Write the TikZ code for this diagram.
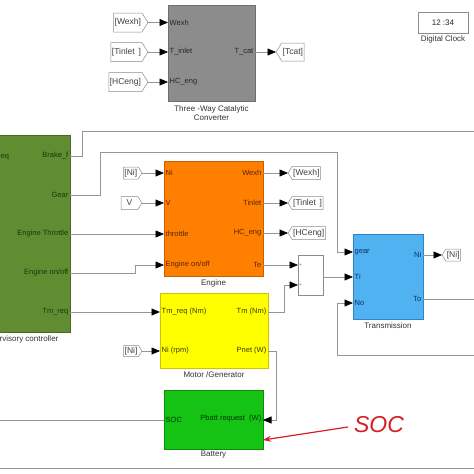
\documentclass[tikz,border=0pt]{standalone}
\usepackage{fontspec}
\setmainfont{Liberation Sans}
\usetikzlibrary{arrows.meta,shapes.symbols}
\definecolor{wiregray}{RGB}{150,150,150}
\definecolor{tagdraw}{RGB}{140,140,140}
\definecolor{catfill}{RGB}{140,140,140}
\definecolor{catdraw}{RGB}{110,110,110}
\definecolor{supfill}{RGB}{96,140,50}
\definecolor{supdraw}{RGB}{70,105,35}
\definecolor{suptxt}{RGB}{25,55,10}
\definecolor{engfill}{RGB}{255,128,0}
\definecolor{engdraw}{RGB}{200,95,0}
\definecolor{engtxt}{RGB}{95,35,0}
\definecolor{motfill}{RGB}{255,255,0}
\definecolor{motdraw}{RGB}{200,200,0}
\definecolor{mottxt}{RGB}{60,60,0}
\definecolor{batfill}{RGB}{20,195,20}
\definecolor{batdraw}{RGB}{10,140,10}
\definecolor{battxt}{RGB}{0,55,0}
\definecolor{trfill}{RGB}{80,178,240}
\definecolor{trdraw}{RGB}{50,130,200}
\definecolor{trtxt}{RGB}{10,45,105}
\definecolor{socred}{RGB}{215,30,35}
\begin{document}
\begin{tikzpicture}[x=1pt,y=-1pt,
  blk/.style={draw, rectangle, inner sep=0pt, outer sep=0pt, anchor=north west, line width=0.5pt},
  wire/.style={draw=wiregray, line width=0.6pt},
  sig/.style={wire, -{Triangle[length=8.5pt,width=7pt,color=black]}},
  plab/.style={font=\fontsize{7.5}{9}\selectfont, inner sep=1.5pt},
  blkcap/.style={font=\fontsize{8}{9.5}\selectfont, text=black!80, inner sep=0pt},
  tagbase/.style={signal, draw=tagdraw, fill=white, line width=0.5pt, signal pointer angle=115,
    font=\fontsize{8.5}{10}\selectfont, text=black!75, inner xsep=1pt, inner ysep=0pt, outer sep=0pt},
  fromtag/.style={tagbase, signal to=east, anchor=east},
  gototag/.style={tagbase, signal to=west, anchor=west}
]
\useasboundingbox (0,0) rectangle (474,474);

% ---------- blocks ----------
\node[blk, fill=catfill, draw=catdraw, minimum width=87, minimum height=96] (cat) at (168,5) {};
\node[blk, fill=supfill, draw=supdraw, minimum width=72, minimum height=197] (sup) at (-2,135) {};
\node[blk, fill=engfill, draw=engdraw, minimum width=99, minimum height=115] (eng) at (164,161) {};
\node[blk, fill=motfill, draw=motdraw, minimum width=108, minimum height=75] (mot) at (160,293) {};
\node[blk, fill=batfill, draw=batdraw, minimum width=99, minimum height=59] (bat) at (164,390) {};
\node[blk, fill=trfill, draw=trdraw, minimum width=70, minimum height=85] (tr) at (353,234) {};
\node[blk, fill=white, draw=tagdraw, minimum width=25, minimum height=40] (sum) at (298,255) {};
\node[blk, fill=white, draw=tagdraw, minimum width=50, minimum height=21] (clk) at (418,12) {};

% ---------- captions ----------
\node[blkcap, align=center] (catcap) at (211.5,113) {Three -Way Catalytic\\Converter};
\node[blkcap] (clkcap) at (443,39) {Digital Clock};
\node[font=\fontsize{8}{9.5}\selectfont, text=black!85] (clktxt) at (clk.center) {12 :34};
\node[blkcap, anchor=west] (supcap) at (-0.5,339) {rvisory controller};
\node[blkcap] (engcap) at (213.5,283) {Engine};
\node[blkcap] (motcap) at (214,375) {Motor /Generator};
\node[blkcap] (batcap) at (213.5,455) {Battery};
\node[blkcap] (trcap) at (388,326) {Transmission};

% ---------- port labels ----------
\node[plab, anchor=west, text=black!85] (cWexh) at (cat.west |- 0,23) {Wexh};
\node[plab, anchor=west, text=black!85] (cTin) at (cat.west |- 0,52) {T\_inlet};
\node[plab, anchor=west, text=black!85] (cHC) at (cat.west |- 0,82) {HC\_eng};
\node[plab, anchor=east, text=black!85] (cTcat) at (cat.east |- 0,52) {T\_cat};

\node[plab, anchor=west, text=suptxt] (sEq) at (-1,157) {eq};
\node[plab, anchor=east, text=suptxt] (sBr) at (sup.east |- 0,156) {Brake\_f};
\node[plab, anchor=east, text=suptxt] (sGr) at (sup.east |- 0,195) {Gear};
\node[plab, anchor=east, text=suptxt] (sTh) at (sup.east |- 0,234) {Engine Throttle};
\node[plab, anchor=east, text=suptxt] (sOn) at (sup.east |- 0,273) {Engine on/off};
\node[plab, anchor=east, text=suptxt] (sTm) at (sup.east |- 0,312) {Tm\_req};

\node[plab, anchor=west, text=engtxt] (eNi) at (eng.west |- 0,173) {Ni};
\node[plab, anchor=west, text=engtxt] (eV) at (eng.west |- 0,203) {V};
\node[plab, anchor=west, text=engtxt] (eTh) at (eng.west |- 0,234) {throttle};
\node[plab, anchor=west, text=engtxt] (eOn) at (eng.west |- 0,265) {Engine on/off};
\node[plab, anchor=east, text=engtxt] (eWx) at (eng.east |- 0,173) {Wexh};
\node[plab, anchor=east, text=engtxt] (eTi) at (eng.east |- 0,203) {Tinlet};
\node[plab, anchor=east, text=engtxt] (eHC) at (eng.east |- 0,233) {HC\_eng};
\node[plab, anchor=east, text=engtxt] (eTe) at (eng.east |- 0,265) {Te};

\node[plab, anchor=west, text=mottxt] (mTr) at (mot.west |- 0,312) {Tm\_req (Nm)};
\node[plab, anchor=west, text=mottxt] (mNi) at (mot.west |- 0,351) {Ni (rpm)};
\node[plab, anchor=east, text=mottxt] (mTm) at (mot.east |- 0,312) {Tm (Nm)};
\node[plab, anchor=east, text=mottxt] (mPn) at (mot.east |- 0,351) {Pnet (W)};

\node[plab, anchor=west, text=battxt] (bSoc) at (bat.west |- 0,420) {SOC};
\node[plab, anchor=east, text=battxt] (bPb) at (bat.east |- 0,419) {Pbatt request\ \ (W)};

\node[plab, anchor=west, text=trtxt] (tGe) at (tr.west |- 0,252) {gear};
\node[plab, anchor=west, text=trtxt] (tTi) at (tr.west |- 0,277) {Ti};
\node[plab, anchor=west, text=trtxt] (tNo) at (tr.west |- 0,303) {No};
\node[plab, anchor=east, text=trtxt] (tNi) at (tr.east |- 0,255) {Ni};
\node[plab, anchor=east, text=trtxt] (tTo) at (tr.east |- 0,299) {To};

\node[font=\fontsize{5}{6}\selectfont, text=black!55, anchor=west, inner sep=1pt] (sP1) at (sum.west |- 0,265) {+};
\node[font=\fontsize{5}{6}\selectfont, text=black!55, anchor=west, inner sep=1pt] (sP2) at (sum.west |- 0,285) {+};

% ---------- tags ----------
\node[fromtag, minimum height=19] (fWexh) at (148,22.5) {[Wexh]};
\node[fromtag, minimum height=19] (fTin) at (148,52) {[Tinlet\ \,]};
\node[fromtag, minimum height=19] (fHC) at (148,82) {[HCeng]};
\node[gototag, minimum height=18] (gTcat) at (276,52) {[Tcat]};

\node[fromtag, minimum height=12] (fNi1) at (142,173) {[Ni]};
\node[fromtag, minimum height=13, minimum width=21] (fV) at (142,203) {V};
\node[gototag, minimum height=13] (gWexh) at (288,173) {[Wexh]};
\node[gototag, minimum height=13] (gTin) at (288,203) {[Tinlet\ \,]};
\node[gototag, minimum height=13] (gHC) at (288,233) {[HCeng]};
\node[gototag, minimum height=12] (gNi) at (442,255) {[Ni]};
\node[fromtag, minimum height=11] (fNi2) at (142,351) {[Ni]};

% ---------- free ends ----------
\coordinate (brEnd) at (474,131);
\coordinate (toEnd) at (474,299);
\coordinate (noEnd) at (474,355);
\coordinate (socEnd) at (0,420);

% ---------- connectors ----------
\draw[sig] (fWexh.east) -- (cat.west |- fWexh.east);
\draw[sig] (fTin.east) -- (cat.west |- fTin.east);
\draw[sig] (fHC.east) -- (cat.west |- fHC.east);
\draw[sig] (cat.east |- gTcat.west) -- (gTcat.west);

\draw[wire] (sup.east |- sBr.east) -- (82,156) -- (82,131) -- (brEnd);
\draw[sig] (sup.east |- sGr.east) -- (100,195) -- (100,152) -- (337,152) -- (337,252) -- (tr.west |- tGe.west);
\draw[sig] (sup.east |- sTh.east) -- (eng.west |- eTh.west);
\draw[sig] (sup.east |- sOn.east) -- (135,273) -- (135,265) -- (eng.west |- eOn.west);
\draw[sig] (sup.east |- sTm.east) -- (mot.west |- mTr.west);

\draw[sig] (fNi1.east) -- (eng.west |- fNi1.east);
\draw[sig] (fV.east) -- (eng.west |- fV.east);
\draw[sig] (eng.east |- gWexh.west) -- (gWexh.west);
\draw[sig] (eng.east |- gTin.west) -- (gTin.west);
\draw[sig] (eng.east |- gHC.west) -- (gHC.west);
\draw[sig] (eng.east |- eTe.east) -- (sum.west |- sP1.west);
\draw[sig] (mot.east |- mTm.east) -- (284,312) -- (284,285) -- (sum.west |- sP2.west);
\draw[sig] (sum.east |- tTi.west) -- (tr.west |- tTi.west);

\draw[sig] (tr.east |- gNi.west) -- (gNi.west);
\draw[wire] (tr.east |- tTo.east) -- (toEnd);
\draw[sig] (noEnd) -- (337,355) -- (337,303) -- (tr.west |- tNo.west);

\draw[sig] (fNi2.east) -- (mot.west |- fNi2.east);
\draw[sig] (mot.east |- mPn.east) -- (276,351) -- (276,420) -- (bat.east |- 0,420);
\draw[wire] (bat.west |- bSoc.west) -- (socEnd);

\draw[wire] (0,468) -- (474,468);

% ---------- SOC annotation ----------
\node[font=\fontsize{23}{26}\selectfont\itshape, text=socred] (socTxt) at (379,425) {SOC};
\draw[socred, line width=1.2pt, -{Stealth[length=8pt,width=6pt]}] (348,427) -- (bat.east |- 0,440);
\end{tikzpicture}
\end{document}
